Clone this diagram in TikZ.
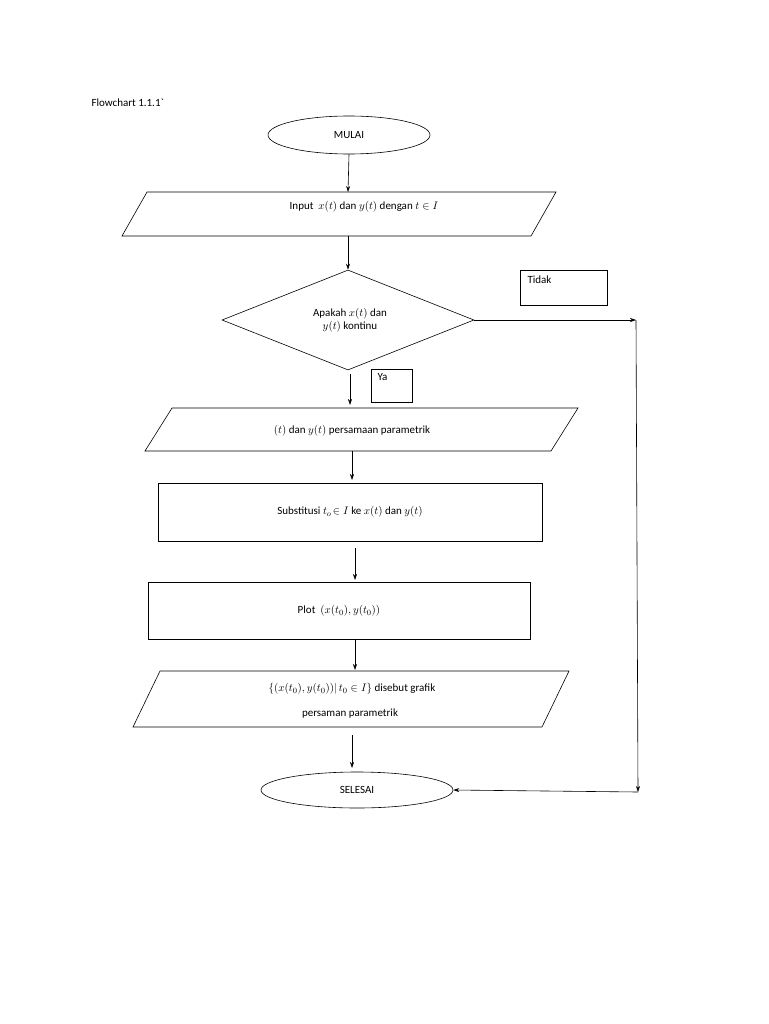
\documentclass[tikz,border=0pt]{standalone}
\usepackage{fontspec}
\setmainfont{Carlito}
\usetikzlibrary{shapes.geometric,arrows.meta}
\begin{document}
\begin{tikzpicture}[x=1pt,y=-1pt,font=\fontsize{11}{13}\selectfont,
 ln/.style={draw=black,line width=0.6pt},
 arr/.style={-{Stealth[length=6pt,width=4pt]},line width=0.6pt}]
\useasboundingbox (0,0) rectangle (768,1024);
\node[anchor=west] (title) at (88,103) {Flowchart 1.1.1\textasciigrave};
\node[ln,ellipse,minimum width=162,minimum height=38] (mulai) at (349,135) {MULAI};
\draw[ln] (147,192) -- (556,192) -- (531,236) -- (122,236) -- cycle;
\node (in) at (364,207) {Input \ $x(t)$ dan $y(t)$ dengan $t\in I$};
\coordinate (in t) at (348,192);
\draw[arr] (mulai.south) -- (in t);
\node[ln,diamond,minimum width=252,minimum height=100,inner sep=0] (d) at (348,320) {};
\node[align=center] at (350,320) {Apakah $x(t)$ dan\\$y(t)$ kontinu};
\draw[arr] (348,236) -- (d.north);
\coordinate (r1) at (636,320);
\coordinate (r2) at (638,792);
\draw[arr] (d.east) -- (r1);
\draw[arr] (r1) -- (r2);
\node[ln,rectangle,minimum width=87,minimum height=35] (tidak) at (563.5,287.5) {};
\node[anchor=north west] at (524,272) {Tidak};
\node[ln,rectangle,minimum width=41,minimum height=33] (ya) at (391.5,385.5) {};
\node[anchor=north west] at (374,370) {Ya};
\coordinate (p2t) at (350,405);
\draw[arr] (350,374) -- (p2t);
\draw[ln] (172,408) -- (578,408) -- (551,451) -- (145,451) -- cycle;
\node at (352,431) {$(t)$ dan $y(t)$ persamaan parametrik};
\node[draw,line width=1pt,minimum width=384,minimum height=58] (sub) at (350,512) {Substitusi $t_o\!\in I$ ke $x(t)$ dan $y(t)$};
\draw[arr] (352,451) -- (352,480);
\node[draw,line width=1pt,minimum width=382,minimum height=57] (plot) at (339,610.5) {Plot \ $\bigl(x(t_0),y(t_0)\bigr)$};
\draw[arr] (355,548) -- (355,580);
\draw[ln] (160,671) -- (569,671) -- (542,727) -- (133,727) -- cycle;
\node at (352,689) {$\bigl\{\bigl(x(t_0),y(t_0)\bigr)\big|\,t_0\in I\bigr\}$ disebut grafik};
\node at (350,714) {persaman parametrik};
\draw[arr] (355,640) -- (355,670);
\node[ln,ellipse,minimum width=192,minimum height=36] (sel) at (357,790) {SELESAI};
\draw[arr] (352,735) -- (352,768);
\draw[arr] (r2) -- (sel.east);
\end{tikzpicture}
\end{document}
